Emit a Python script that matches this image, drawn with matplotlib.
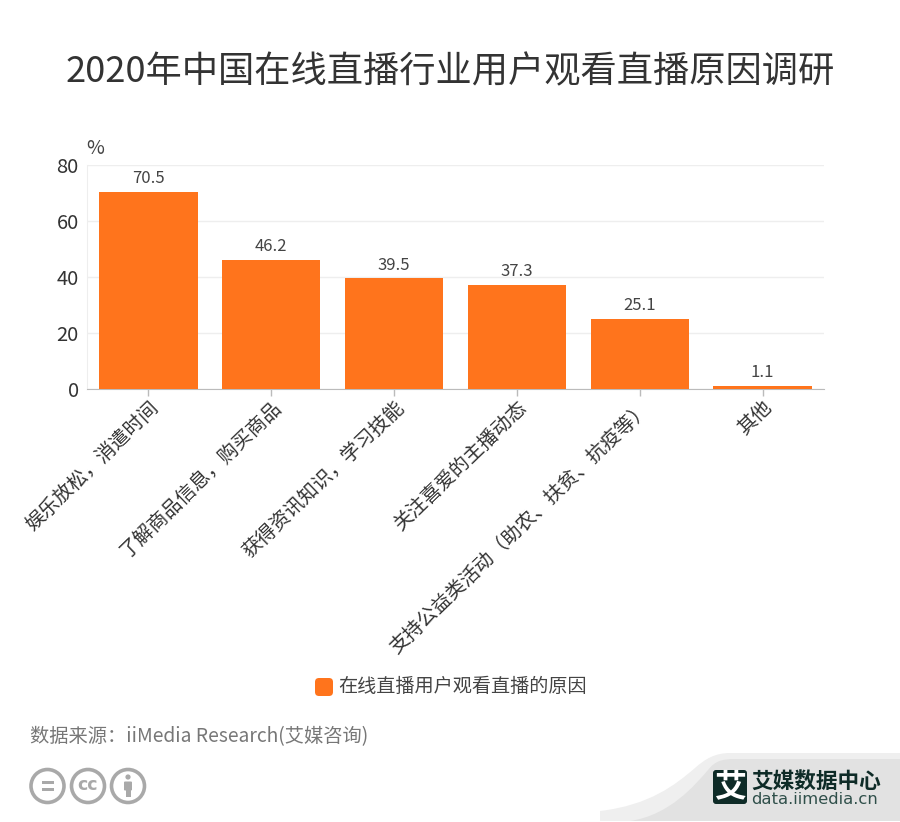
import matplotlib
matplotlib.use('Agg')
from matplotlib import pyplot as plt
from matplotlib.patches import Circle, FancyBboxPatch, PathPatch, Rectangle
from matplotlib.path import Path

plt.rcParams['font.family'] = ['Noto Sans CJK SC', 'DejaVu Sans']

# Survey data
reasons = ['娱乐放松，消遣时间', '了解商品信息，购买商品', '获得资讯知识，学习技能',
           '关注喜爱的主播动态', '支持公益类活动（助农、扶贫、抗疫等）', '其他']
percent = [70.5, 46.2, 39.5, 37.3, 25.1, 1.1]
y_ticks = [0, 20, 40, 60, 80]

title = '2020年中国在线直播行业用户观看直播原因调研'
series_name = '在线直播用户观看直播的原因'
source = '数据来源：iiMedia Research(艾媒咨询)'

ORANGE = '#ff741c'
TEXT = '#333333'
ICON = '#a9a9a9'
DARK = '#0e2b27'

W, H = 900, 822
fig = plt.figure(figsize=(W / 100, H / 100), dpi=100, facecolor='white')

# Main axes, placed in pixels
left, right, top, bottom = 87, 824, 165, 389
ax = fig.add_axes([left / W, 1 - bottom / H, (right - left) / W, (bottom - top) / H])
bars = ax.bar(range(len(reasons)), percent, width=0.8, color=ORANGE, zorder=3)
ax.bar_label(bars, fmt='%.1f', padding=3.5, fontsize=12, color='#444444')
ax.set_xlim(-0.5, len(reasons) - 0.5)
ax.set_ylim(0, 80)
ax.set_yticks(y_ticks)
ax.set_xticks(range(len(reasons)))
ax.set_xticklabels(reasons, rotation=44, ha='right', rotation_mode='anchor',
                   fontsize=14.1, color=TEXT, fontweight='light')
ax.tick_params(axis='x', length=5, width=1, color='#bbbbbb', pad=1)
ax.tick_params(axis='y', length=0, labelsize=14.5, labelcolor=TEXT, pad=6)
ax.grid(axis='y', color='#eeeeee', lw=1, zorder=0)
ax.set_axisbelow(True)
for side in ['top', 'right']:
    ax.spines[side].set_visible(False)
ax.spines['left'].set_color('#eeeeee')
ax.spines['bottom'].set_color('#bbbbbb')

# Overlay in pixel coordinates for title, legend and footer
ov = fig.add_axes([0, 0, 1, 1], zorder=5)
ov.set_xlim(0, W)
ov.set_ylim(H, 0)
ov.axis('off')
ov.patch.set_alpha(0)

ov.text(450, 72, title, ha='center', va='center', fontsize=26.1, color=TEXT)
ov.text(86, 148, '%', ha='left', va='center', fontsize=14, color='#444444')

# Legend
ov.add_patch(FancyBboxPatch((318, 681), 12, 12, boxstyle='round,pad=3,rounding_size=4',
                            fc=ORANGE, ec='none'))
ov.text(338, 686, series_name, ha='left', va='center', fontsize=13.75,
        color='#444444', fontweight='light')

ov.text(30, 737, source, ha='left', va='center', fontsize=13.85, color='#777777',
        fontweight='light')

# Licence icons
for cx in [47.5, 88, 128]:
    ov.add_patch(Circle((cx, 786), 16.5, fc='white', ec=ICON, lw=2.6))
ov.add_patch(Rectangle((41.5, 781), 12.5, 3, fc=ICON, ec='none'))
ov.add_patch(Rectangle((41.5, 788), 12.5, 3, fc=ICON, ec='none'))
ov.text(88, 785, 'cc', ha='center', va='center', fontsize=12.5, color=ICON,
        fontweight='bold', family='DejaVu Sans')
ov.add_patch(Circle((128, 777), 2.6, fc=ICON, ec='none'))
ov.add_patch(FancyBboxPatch((124.5, 782), 7, 8, boxstyle='round,pad=0.5,rounding_size=1',
                            fc=ICON, ec='none'))
ov.add_patch(Rectangle((125.5, 789), 5, 8, fc=ICON, ec='none'))

# Footer swoosh
C = Path.CURVE4
light = Path([(600, 811), (650, 805), (675, 785), (695, 768), (705, 759), (715, 753), (730, 753),
              (900, 753), (900, 821), (600, 821), (600, 811)],
             [Path.MOVETO, C, C, C, C, C, C, Path.LINETO, Path.LINETO, Path.LINETO, Path.CLOSEPOLY])
dark = Path([(630, 821), (670, 815), (695, 785), (708, 770), (715, 761), (722, 759), (735, 759),
             (900, 759), (900, 821), (630, 821)],
            [Path.MOVETO, C, C, C, C, C, C, Path.LINETO, Path.LINETO, Path.CLOSEPOLY])
ov.add_patch(PathPatch(light, fc='#efefef', ec='none'))
ov.add_patch(PathPatch(dark, fc='#e2e2e2', ec='none'))

# Logo
ov.add_patch(FancyBboxPatch((715, 772), 30, 30, boxstyle='round,pad=2,rounding_size=3',
                            fc=DARK, ec='none'))
ov.text(730, 787, '艾', ha='center', va='center', fontsize=23, color='white', fontweight='bold')
ov.text(751, 781, '艾媒数据中心', ha='left', va='center', fontsize=15.6, color=DARK,
        fontweight='bold')
ov.text(751, 799, 'data.iimedia.cn', ha='left', va='center', fontsize=11.8, color='#2f4f4a',
        family='DejaVu Sans')

fig.savefig('out.png', dpi=100)
